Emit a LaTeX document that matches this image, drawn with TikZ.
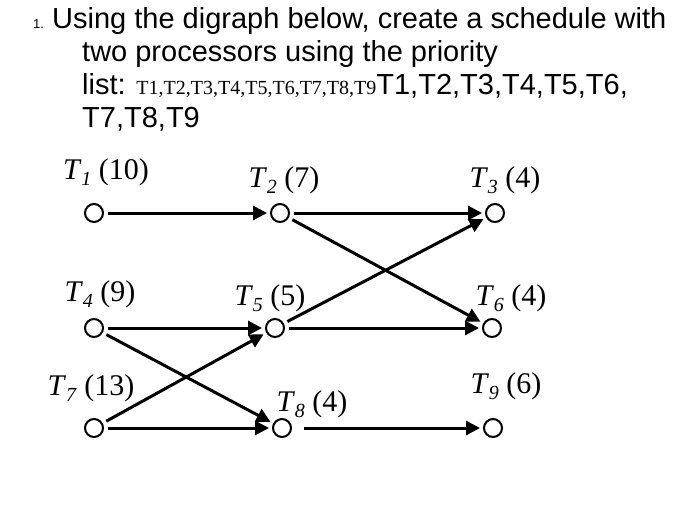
\documentclass[tikz,border=0pt]{standalone}
\usepackage{fontspec}
\setmainfont{Liberation Sans}
\newfontfamily\tms{Liberation Serif}
\usetikzlibrary{arrows.meta}
\newcommand{\tl}[2]{\textit{T}\raisebox{-6pt}{\fontsize{20}{22}\selectfont\textit{#1}} (#2)}
\begin{document}
\begin{tikzpicture}[x=1pt,y=-1pt,
  v/.style={circle,draw,line width=2pt,minimum size=18pt,inner sep=0pt},
  lab/.style={font=\tms\fontsize{30}{32}\selectfont,inner sep=0pt},
  e/.style={line width=3pt,-{Triangle[length=14pt,width=14pt]},shorten <=4pt,shorten >=3pt},
  hd/.style={font=\fontsize{29}{32}\selectfont,anchor=base west,inner sep=0pt}]
\useasboundingbox (0,0) rectangle (700,523);
\node[anchor=base west,inner sep=0pt,font=\fontsize{13}{14}\selectfont] (n1) at (33,28) {1.};
\node[hd] (h1) at (52,28) {Using the digraph below, create a schedule with};
\node[hd] (h2) at (82,61) {two processors using the priority};
\node[hd] (h3) at (82,94) {list: {\tms\fontsize{20}{24}\selectfont T1,T2,T3,T4,T5,T6,T7,T8,T9}T1,T2,T3,T4,T5,T6,};
\node[hd] (h4) at (82,127) {T7,T8,T9};
\node[v] (t1) at (94,213) {}; \node[v] (t2) at (280,213) {}; \node[v] (t3) at (495,213) {};
\node[v] (t4) at (94,328) {}; \node[v] (t5) at (275,328) {}; \node[v] (t6) at (492,328) {};
\node[v] (t7) at (94,428) {}; \node[v] (t8) at (282,428) {}; \node[v] (t9) at (493,428) {};
\node[lab] (l1) at (106,172) {\tl{1}{10}};
\node[lab] (l2) at (284,180) {\tl{2}{7}};
\node[lab] (l3) at (505,180) {\tl{3}{4}};
\node[lab] (l4) at (100,294) {\tl{4}{9}};
\node[lab] (l5) at (270,298) {\tl{5}{5}};
\node[lab] (l6) at (511,298) {\tl{6}{4}};
\node[lab] (l7) at (91,388) {\tl{7}{13}};
\node[lab] (l8) at (312,404) {\tl{8}{4}};
\node[lab] (l9) at (506,386) {\tl{9}{6}};
\draw[e] (t1) -- (t2); \draw[e] (t2) -- (t3); \draw[e] (t2) -- (t6);
\draw[e] (t4) -- (t5); \draw[e] (t4) -- (t8); \draw[e] (t5) -- (t3);
\draw[e] (t5) -- (t6); \draw[e] (t7) -- (t5); \draw[e] (t7) -- (t8);
\draw[e,shorten <=12pt] (t8) -- (t9);
\end{tikzpicture}
\end{document}
